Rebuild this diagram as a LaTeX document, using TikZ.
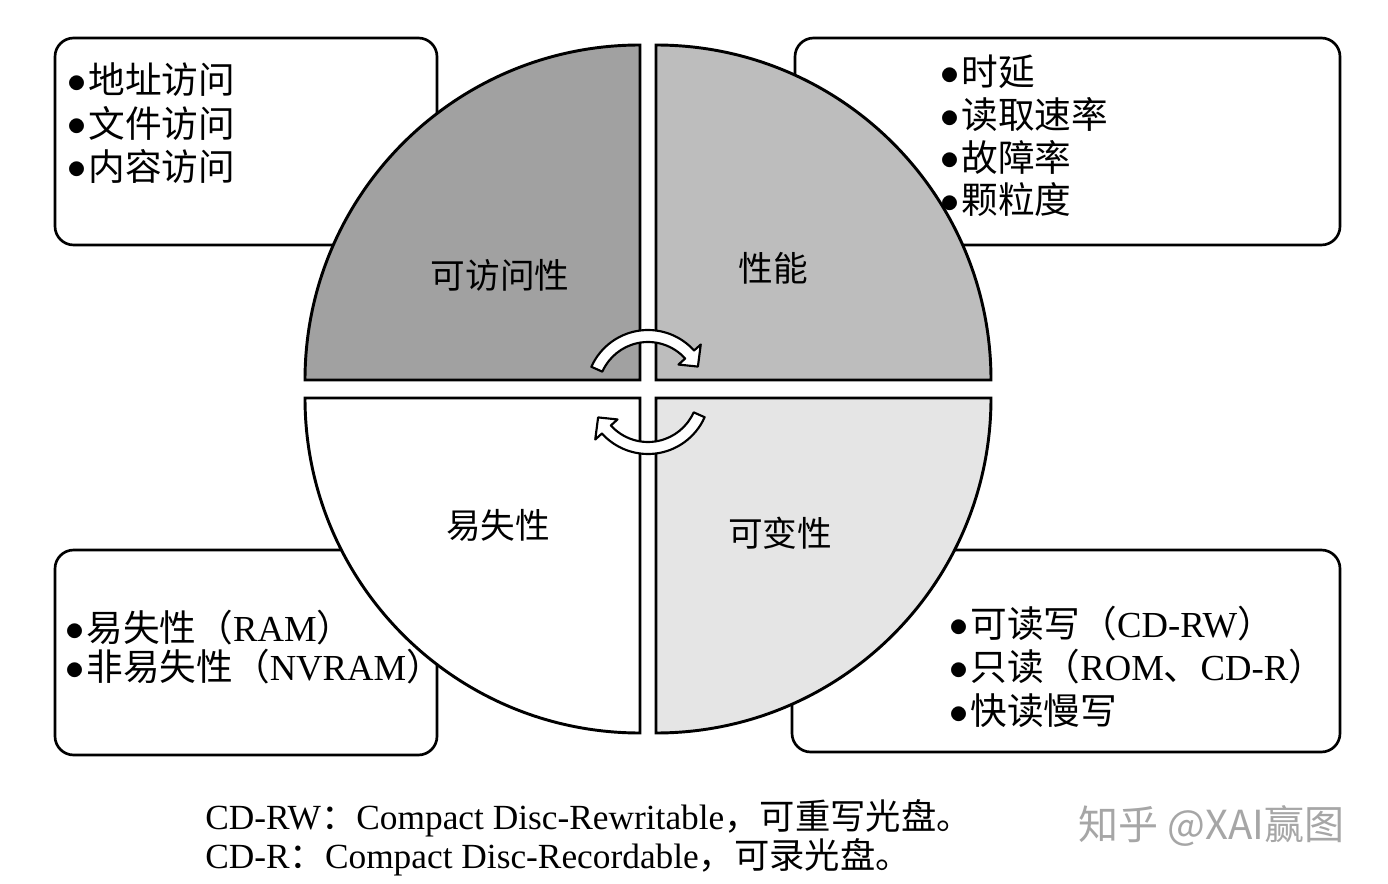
\documentclass[tikz,border=0pt]{standalone}
\usepackage{fontspec}
\setmainfont{Liberation Serif}
\newfontfamily\cjk{Noto Sans CJK SC}
\newcommand{\zh}[1]{{\cjk #1}}
\newcommand{\bul}{{\raisebox{0.12em}{\scalebox{0.45}{\cjk ●}}\hspace{0.1em}}}
\begin{document}
\begin{tikzpicture}[x=0.75pt,y=-0.75pt,
  box/.style={draw,line width=2pt,rounded corners=14pt,fill=white},
  quad/.style={draw,line width=2.2pt},
  item/.style={anchor=west,font=\fontsize{27.5}{30}\selectfont,inner sep=0},
  lab/.style={font=\fontsize{26}{30}\selectfont\cjk},
  note/.style={anchor=west,font=\fontsize{26.5}{30}\selectfont,inner sep=0},
  barrow/.style={draw,line width=1.6pt,fill=white,line join=round}]
\useasboundingbox (0,0) rectangle (1388,884);
\fill[white] (0,0) rectangle (1388,884);
% boxes
\draw[box] (55,38) rectangle (437,245);
\draw[box] (795,38) rectangle (1340,245);
\draw[box] (55,550) rectangle (437,755);
\draw[box] (792,550) rectangle (1340,752);
% quadrants
\draw[quad,fill=black!37] (640,380) -- ++(180:335) arc (180:270:335) -- cycle;
\draw[quad,fill=black!26] (656,380) -- ++(270:335) arc (270:360:335) -- cycle;
\draw[quad,fill=black!10] (656,398) -- ++(0:335) arc (0:90:335) -- cycle;
\draw[quad,fill=white] (640,398) -- ++(90:335) arc (90:180:335) -- cycle;
% arrows
\draw[barrow,shift={(648,392)}] (204:62) arc (204:318:62) -- (318:71) -- (333:56) -- (318:41) -- (318:50) arc (318:204:50) -- cycle;
\draw[barrow,shift={(648,392)}] (24:62) arc (24:138:62) -- (138:71) -- (153:56) -- (138:41) -- (138:50) arc (138:24:50) -- cycle;
% center labels
\node[lab] (l1) at (500,275) {可访问性};
\node[lab] (l2) at (773,268) {性能};
\node[lab] (l3) at (498,525) {易失性};
\node[lab] (l4) at (780,533) {可变性};
% box texts
\node[item] (a1) at (68,80) {\bul\zh{地址访问}};
\node[item] (a2) at (68,123) {\bul\zh{文件访问}};
\node[item] (a3) at (68,166) {\bul\zh{内容访问}};
\node[item] (b1) at (941,72) {\bul\zh{时延}};
\node[item] (b2) at (941,115) {\bul\zh{读取速率}};
\node[item] (b3) at (941,157) {\bul\zh{故障率}};
\node[item] (b4) at (941,200) {\bul\zh{颗粒度}};
\node[item] (c1) at (66,628) {\bul\zh{易失性（}RAM\zh{）}};
\node[item] (c2) at (66,667) {\bul\zh{非易失性（}NVRAM\zh{）}};
\node[item] (d1) at (950,624) {\bul\zh{可读写（}CD-RW\zh{）}};
\node[item] (d2) at (950,667) {\bul\zh{只读（}ROM\zh{、}CD-R\zh{）}};
\node[item] (d3) at (950,711) {\bul\zh{快读慢写}};
% notes
\node[note] (n1) at (205,818) {CD-RW\zh{：}Compact Disc-Rewritable\zh{，可重写光盘。}};
\node[note] (n2) at (205,857) {CD-R\zh{：}Compact Disc-Recordable\zh{，可录光盘。}};
\node[anchor=west,inner sep=0,text=black!35,font=\fontsize{30}{34}\selectfont\cjk] (w) at (1078,826) {知乎 @XAI赢图};
\end{tikzpicture}
\end{document}
